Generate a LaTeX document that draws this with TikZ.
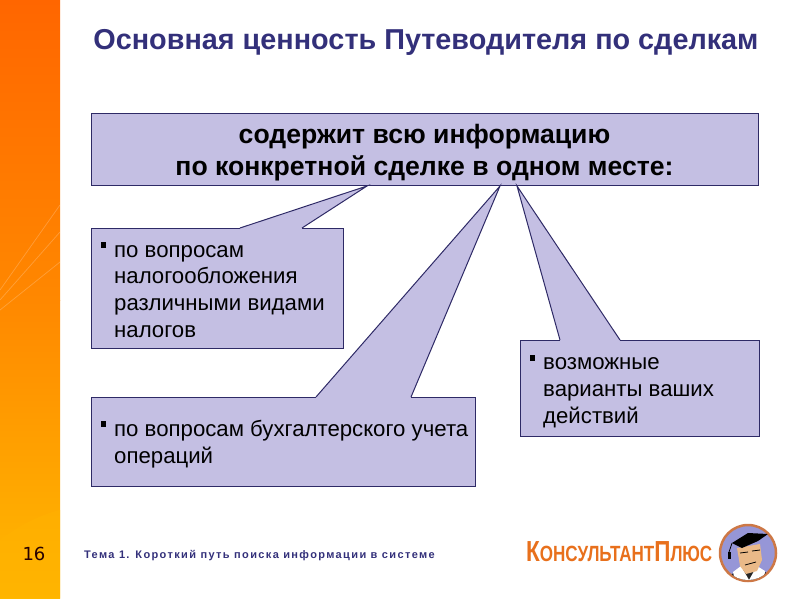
\documentclass[tikz,border=0pt]{standalone}
\usepackage{fontspec}
\setmainfont{Liberation Sans}
\newfontfamily\pagefont{DejaVu Sans}
\newfontfamily\footfont[LetterSpace=12.5]{Liberation Sans}
\definecolor{titleblue}{HTML}{33307A}
\definecolor{boxfill}{HTML}{C4BFE3}
\definecolor{boxline}{HTML}{2E2A66}
\definecolor{logoorange}{HTML}{E8701C}
\tikzset{
  boxa/.style={draw=boxline,fill=boxfill,line width=1pt,anchor=north west,inner sep=0pt},
  boxtext/.style={anchor=north west,align=left,inner sep=0pt,font=\fontsize{22.2}{26.7}\selectfont},
  bulletmark/.style={fill=black,inner sep=0pt,minimum size=5.5pt},
}
\begin{document}
\begin{tikzpicture}[x=1pt,y=-1pt]
\useasboundingbox (0,0) rectangle (800,600);

% side bar
\shade[top color={rgb,255:red,255;green,102;blue,0},bottom color={rgb,255:red,255;green,136;blue,0}] (0,0) rectangle (60,300);
\shade[top color={rgb,255:red,255;green,136;blue,0},bottom color={rgb,255:red,255;green,185;blue,0}] (0,300) rectangle (60,598);
\begin{scope}
\clip (0,0) rectangle (60,598);
\fill[orange!60!yellow,opacity=.55] (0,540) .. controls (20,525) and (40,515) .. (60,510) -- (60,598) -- (0,598) -- cycle;
\foreach \ya/\yb in {290/205,300/232,310/262}
  \draw[white,opacity=.22,line width=.7pt] (0,\ya) -- (60,\yb);
\end{scope}
\node[font=\pagefont\fontsize{18}{18}\selectfont,text=black!85!red] (pagenr) at (34,554) {16};

\node[font=\bfseries\fontsize{28.8}{32}\selectfont,text=titleblue] (title) at (426,42) {Основная ценность Путеводителя по сделкам};

% boxes
\node[boxa,minimum width=667pt,minimum height=72pt] (top) at (91,113) {};
\node[align=center,inner sep=0pt,font=\bfseries\fontsize{26.6}{32}\selectfont] (toptext) at (424.5,152.5)
  {содержит всю информацию\hspace{10pt}\\по конкретной сделке в одном месте:};
\node[boxa,minimum width=252pt,minimum height=119.5pt] (taxes) at (91,228) {};
\node[boxa,minimum width=384pt,minimum height=88.5pt] (account) at (91,397) {};
\node[boxa,minimum width=239pt,minimum height=95.5pt] (options) at (520,340) {};

% pointers
\foreach \nm/\xa/\xb/\xtip in {taxes/240/302/367,account/316/411/500,options/560/620/517}{
  \draw[boxfill,line width=2pt] (\xa,0 |- \nm.north) -- (\xb,0 |- \nm.north);
  \fill[boxfill] (\xa,0 |- \nm.north) -- (\xtip,0 |- top.south) -- (\xb,0 |- \nm.north) -- cycle;
  \draw[boxline,line width=1pt] (\xa,0 |- \nm.north) -- (\xtip,0 |- top.south) -- (\xb,0 |- \nm.north);
}

\node[boxtext] (taxestext) at (114,245) {по вопросам\\налогообложения\\различными видами\\налогов};
\node[boxtext] (accounttext) at (114,420) {по вопросам бухгалтерского учета\\операций};
\node[boxtext] (optionstext) at (543,357.5) {возможные\\варианты ваших\\действий};
\node[bulletmark] (bulleta) at (103.5,245) {};
\node[bulletmark] (bulletb) at (103.5,424) {};
\node[bulletmark] (bulletc) at (532.5,358) {};

% footer
\node[anchor=west,inner sep=0pt,font=\footfont\bfseries\fontsize{11}{13}\selectfont,text=titleblue] (theme) at (84,556) {Тема 1. Короткий путь поиска информации в системе};

% logo
\node[anchor=west,inner sep=0pt,text=logoorange,font=\bfseries,xscale=.775] (logo) at (526,552)
  {\fontsize{29}{30}\selectfont К\fontsize{22}{30}\selectfont ОНСУЛЬТАНТ\fontsize{29}{30}\selectfont П\fontsize{22}{30}\selectfont ЛЮС};
\begin{scope}
\node[circle,draw={rgb,255:red,205;green,120;blue,70},line width=2.5pt,fill={rgb,255:red,150;green,150;blue,215},minimum size=56pt,inner sep=0pt] (emblem) at (748,553) {};
\clip (748,553) circle (27pt);
% gown and collar
\fill[black!85] (727,578) -- (740,568) -- (758,568) -- (772,576) -- (772,590) -- (727,590) -- cycle;
\fill[white] (733,572) -- (741,566) -- (749,580) -- (757,566) -- (765,571) -- (763,590) -- (737,590) -- cycle;
% face
\fill[orange!40!brown!55!white] (737,548) -- (760,544) -- (762,560) -- (757,571) -- (746,574) -- (740,566) -- cycle;
% cap and tassel
\fill[black] (732,543) -- (748,533) -- (768,534) -- (758,541) -- (742,548) -- cycle;
\draw[black,line width=.8pt] (732,543) -- (729,552);
\fill[black] (727.5,552) rectangle (730.5,559);
% glasses and mouth
\draw[black,line width=.8pt] (740,553) -- (748,552) (752,551) -- (760,550);
\draw[black,line width=.8pt] (745,565) -- (756,562);
\end{scope}
\end{tikzpicture}
\end{document}
